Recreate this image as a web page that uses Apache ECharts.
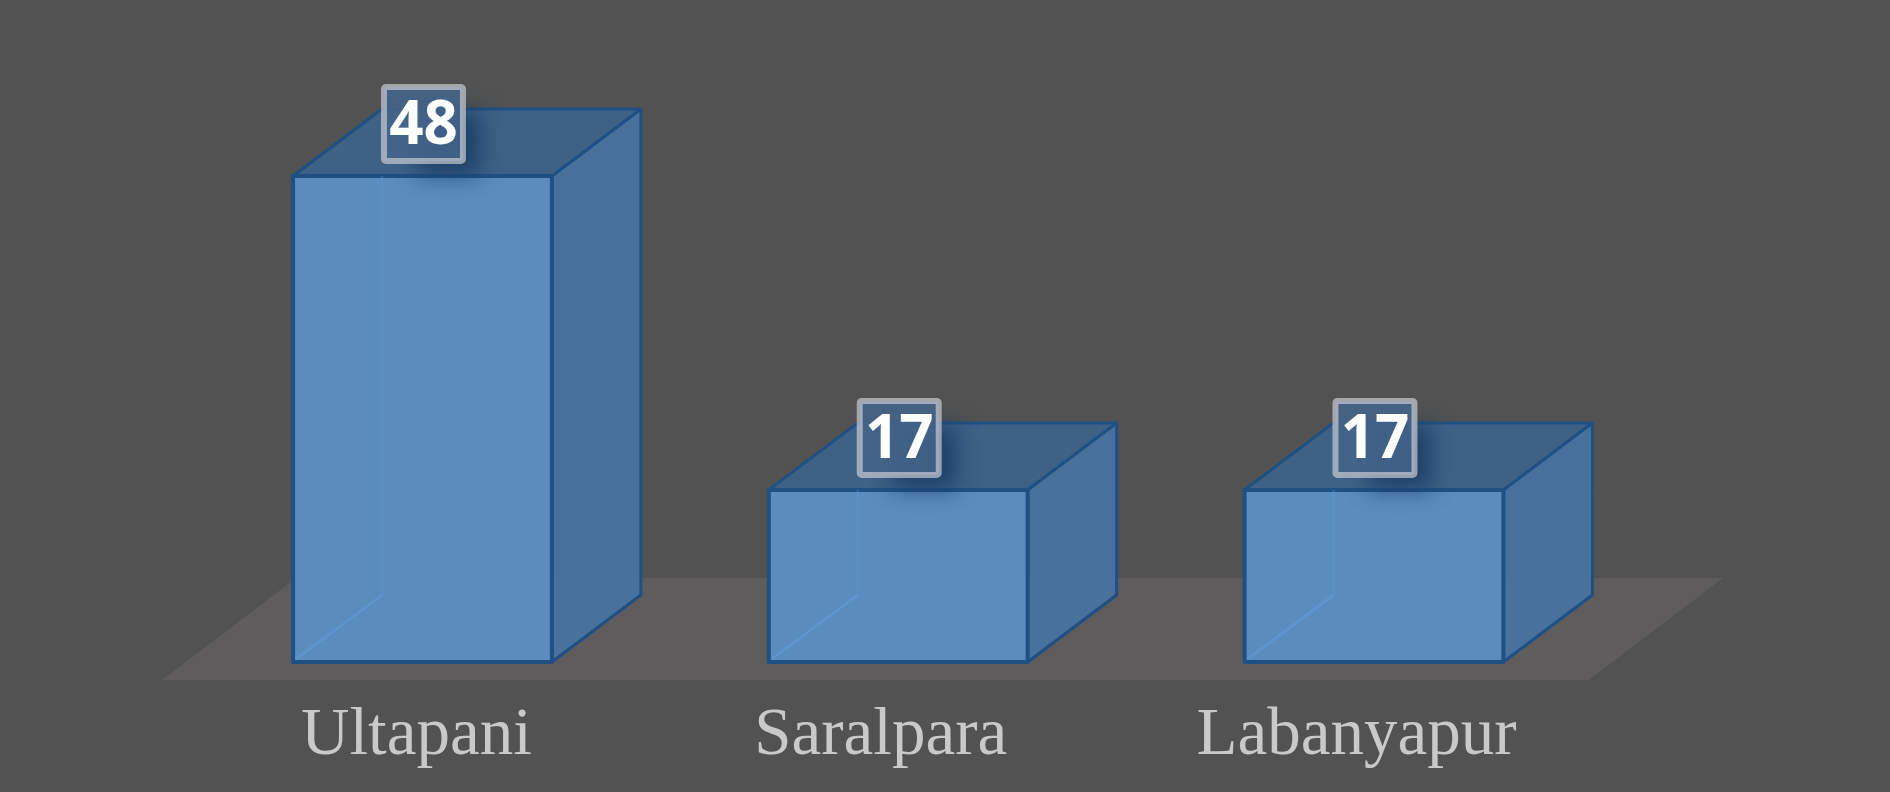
<!DOCTYPE html>
<html>
<head>
<meta charset="utf-8">
<style>
  html, body { margin: 0; padding: 0; background: #525252; }
  #main { width: 1890px; height: 792px; }
</style>
<script src="https://cdn.jsdelivr.net/npm/echarts@6/dist/echarts.min.js"></script>
</head>
<body>
<div id="main"></div>
<script>
const categories = ['Ultapani', 'Saralpara', 'Labanyapur'];
const values = [48, 17, 17];

// perspective offset of the box depth, in px
const DEPTH_X = 89;
const DEPTH_Y = 67;
const BAR_SHARE = 0.544;
const EDGE = '#1f5083';

function poly(points, fill, stroke, lineWidth) {
  return {
    type: 'polygon',
    shape: { points: points },
    style: { fill: fill, stroke: stroke, lineWidth: lineWidth, lineJoin: 'round' }
  };
}

function line(x1, y1, x2, y2, color) {
  return {
    type: 'line',
    shape: { x1: x1, y1: y1, x2: x2, y2: y2 },
    style: { stroke: color, lineWidth: 2.5 }
  };
}

function renderBox(params, api) {
  const i = api.value(0);
  const top = api.coord([i, api.value(1)]);
  const base = api.coord([i, 0]);
  const w = api.size([1, 0])[0] * BAR_SHARE;
  const l = top[0] - w / 2;
  const r = top[0] + w / 2;
  const t = top[1];
  const b = base[1];
  const dx = DEPTH_X;
  const dy = DEPTH_Y;
  const cx = top[0] + 1;
  const by = t - 52; // badge centre

  return {
    type: 'group',
    children: [
      // front, side, top
      poly([[r, t], [r + dx, t - dy], [r + dx, b - dy], [r, b]], 'rgba(71,115,158,0.97)', EDGE, 3),
      poly([[l, t], [l + dx, t - dy], [r + dx, t - dy], [r, t]], 'rgba(62,98,136,0.97)', EDGE, 3),
      poly([[l, t], [r, t], [r, b], [l, b]], 'rgba(91,143,195,0.96)', EDGE, 4),
      // hidden edges showing faintly through the front face
      line(l + dx, t, l + dx, b - dy, 'rgba(95,155,215,0.28)'),
      line(l + dx, b - dy, l + 3, b - 3, 'rgba(95,155,215,0.6)'),
      line(l + dx, b - dy, r - 2, b - dy, 'rgba(95,155,215,0.12)'),
      // soft shadow of the badge: only the shadow lands on the chart
      {
        type: 'rect',
        shape: { x: cx + 3000 - 6, y: by - 12, width: 62, height: 62 },
        style: {
          fill: '#000',
          shadowColor: 'rgba(25,60,100,0.9)',
          shadowBlur: 22,
          shadowOffsetX: -3000,
          shadowOffsetY: 0
        }
      },
      // value badge
      {
        type: 'rect',
        shape: { x: cx - 39.5, y: by - 37, width: 79, height: 74, r: 2 },
        style: { fill: 'rgba(68,100,138,0.88)', stroke: 'rgba(205,207,212,0.68)', lineWidth: 6 }
      },
      {
        type: 'text',
        style: {
          x: cx,
          y: by + 3,
          text: String(api.value(1)),
          fill: '#ffffff',
          font: 'bold 60px "Open Sans"',
          align: 'center',
          verticalAlign: 'middle'
        }
      }
    ]
  };
}

const chart = echarts.init(document.getElementById('main'));
chart.setOption({
  backgroundColor: '#525252',
  animation: false,
  tooltip: { show: false },
  graphic: [{
    // floor under the boxes
    type: 'polygon',
    z: 0,
    silent: true,
    shape: { points: [[296, 578], [1723, 578], [1589, 680], [162, 680]] },
    style: { fill: '#5e5c5c' }
  }],
  grid: { left: 184.6, width: 1427.25, top: 54.5, bottom: 130 },
  xAxis: {
    type: 'category',
    data: categories,
    axisLine: { show: false },
    axisTick: { show: false },
    axisLabel: {
      margin: 41,
      interval: 0,
      // labels sit a little left of their boxes in the original
      formatter: function (value, index) {
        return (index === 0 ? '{a|' : '{b|') + value + '}';
      },
      rich: {
        a: { fontFamily: 'Liberation Serif', fontSize: 67, color: '#c9c9c9', padding: [0, 12, 0, 0] },
        b: { fontFamily: 'Liberation Serif', fontSize: 67, color: '#c9c9c9', padding: [0, 35, 0, 0] }
      }
    }
  },
  yAxis: {
    type: 'value',
    min: 0,
    max: 60,
    show: false
  },
  series: [{
    type: 'custom',
    coordinateSystem: 'cartesian2d',
    clip: false,
    silent: true,
    renderItem: renderBox,
    encode: { x: 0, y: 1 },
    data: values.map(function (v, i) { return [i, v]; })
  }]
});
</script>
</body>
</html>
